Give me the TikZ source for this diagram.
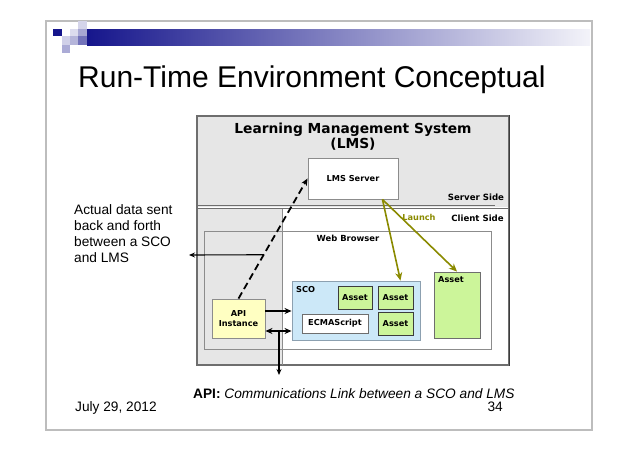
\documentclass[tikz,border=0pt]{standalone}
\usepackage{xcolor}
\usepackage{fontspec}
\setmainfont{Liberation Sans}
\newfontfamily\verdfont{DejaVu Sans}
\usetikzlibrary{positioning,arrows.meta,calc}

\definecolor{framegray}{HTML}{BDBDBD}
\definecolor{navybar}{HTML}{16168C}
\definecolor{srvgray}{HTML}{E6E6E6}
\definecolor{boxline}{HTML}{8C8C8C}
\definecolor{lmsline}{HTML}{6E6E6E}
\definecolor{scoblue}{HTML}{CCE8F8}
\definecolor{scoline}{HTML}{8CA0B0}
\definecolor{assetgreen}{HTML}{CCF59A}
\definecolor{assetline}{HTML}{3C3C3C}
\definecolor{apiyellow}{HTML}{FFFFC2}
\definecolor{launchcol}{HTML}{8A8A00}

\begin{document}
\begin{tikzpicture}[
  x=1pt, y=-1pt,
  lbl/.style={inner sep=0pt, font=\verdfont\bfseries\fontsize{8.2}{9.5}\selectfont},
  box/.style={lbl, draw=boxline, line width=0.9pt},
  assetbox/.style={box, fill=assetgreen, draw=assetline, minimum width=34pt, minimum height=23pt},
  slidetext/.style={inner sep=0pt, font=\fontsize{13.7}{16}\selectfont},
  arrow/.style={-{Stealth[length=7pt,width=6pt]}, line width=1.5pt},
  thinarrow/.style={-{Stealth[length=6pt,width=5pt]}, line width=1.1pt},
  launcharrow/.style={-{Stealth[length=8pt,width=7pt]}, line width=1.6pt, draw=launchcol}
]
  \useasboundingbox (0,0) rectangle (638,451);

  % slide frame and header
  \draw[framegray, line width=1.2pt] (46,21) rectangle (592,430);
  \shade[left color=navybar, middle color=navybar!55!white, right color=navybar!5!white] (87,29) rectangle (590,45);
  \fill[navybar] (53,29) rectangle (62,36);
  \fill[navybar!18!white] (78,21) rectangle (87,29);
  \fill[navybar!15!white] (70,29) rectangle (78,36);
  \fill[navybar!38!white] (78,29) rectangle (87,36);
  \fill[navybar!20!white] (62,36) rectangle (70,45);
  \fill[navybar!32!white] (70,36) rectangle (78,45);
  \fill[navybar!60!white] (78,36) rectangle (87,45);
  \fill[navybar!36!white] (62,45) rectangle (70,53);

  \node[anchor=base west, inner sep=0pt, font=\fontsize{30}{36}\selectfont] (title) at (78,87) {Run-Time Environment Conceptual};

  % LMS frame: server side / client side
  \fill[srvgray] (197,116) rectangle (509,207);
  \fill[srvgray] (197,208) rectangle (282,365);
  \node[draw=lmsline, line width=1.1pt, minimum width=312pt, minimum height=249pt] (lms) at (353,240.5) {};
  \draw[assetline, line width=1.8pt] (lms.north east) -- (lms.south east);
  \draw[lmsline, line width=1pt] (197,205.5) -- (495,205.5);
  \draw[lmsline, line width=1pt] (197,208.5) -- (509,208.5);
  \draw[boxline, line width=0.9pt] (282,208.5) -- (282,365);

  \node[anchor=north, inner sep=0pt, align=center, font=\verdfont\bfseries\fontsize{13.8}{14.5}\selectfont] (lmstitle) at (353,123) {Learning Management System\\(LMS)};
  \node[box, fill=white, minimum width=90pt, minimum height=41pt] (server) at (353,178.5) {LMS Server};
  \node[lbl, font=\verdfont\bfseries\fontsize{8.6}{10}\selectfont] (srvside) at (476,197.5) {Server Side};
  \node[lbl, font=\verdfont\bfseries\fontsize{8.6}{10}\selectfont] (clientside) at (477.5,218) {Client Side};
  \node[lbl, text=launchcol] (launch) at (419,217) {Launch};

  % web browser contents
  \node[draw=boxline, line width=0.9pt, minimum width=287pt, minimum height=118pt] (browser) at (347.5,290) {};
  \node[lbl, font=\verdfont\bfseries\fontsize{8.4}{10}\selectfont] (wblabel) at (348,238.5) {Web Browser};

  \node[box, fill=scoblue, draw=scoline, minimum width=128pt, minimum height=59pt] (sco) at (356,310.5) {};
  \node[lbl, anchor=north west] (scolabel) at (296,286) {SCO};
  \node[assetbox] (assetA) at (355,297.5) {Asset};
  \node[assetbox, minimum width=35pt] (assetB) at (395.5,297.5) {Asset};
  \node[assetbox, minimum width=35pt] (assetC) at (395.5,323.5) {Asset};
  \node[box, fill=white, draw=lmsline, minimum width=66pt, minimum height=19pt] (ecma) at (335,323.5) {ECMAScript};

  \node[box, fill=assetgreen, draw=lmsline, minimum width=46pt, minimum height=66pt] (bigasset) at (457,305) {};
  \node[lbl, anchor=north west] (biglabel) at (438,276) {Asset};

  \node[box, fill=apiyellow, align=center, minimum width=53pt, minimum height=39pt] (api) at (238.5,318.5) {API\\Instance};

  % connectors
  \draw[arrow, dash pattern=on 7pt off 4pt, line width=1.8pt] (api.north) -- (server.west);
  \coordinate (tap) at ($(api.north)!0.365!(server.west)$);
  \coordinate (dataend) at (189,255);
  \draw[thinarrow] (tap) -- (dataend);

  \draw[arrow] ([yshift=7.5pt]api.east) -- ([yshift=7.5pt]api.east -| sco.west);
  \draw[arrow, {Stealth[length=7pt,width=6pt]}-{Stealth[length=7pt,width=6pt]}] ([yshift=-12.5pt]api.east) -- ([yshift=-12.5pt]api.east -| sco.west);
  \coordinate (bus) at (279,331);
  \coordinate (busend) at (279,375);
  \draw[thinarrow] (bus) -- (busend);

  \coordinate (launchpt) at ($(server.south east)+(-16,0)$);
  \draw[launcharrow] (launchpt) -- ($(sco.north east)+(-20,0)$);
  \draw[launcharrow] (launchpt) -- (bigasset.north);

  % slide texts
  \node[slidetext, anchor=north west, align=left] (datanote) at (74,204) {Actual data sent\\back and forth\\between a SCO\\and LMS};
  \node[slidetext, anchor=base west] (apinote) at (193,398) {\textbf{API:} \textit{Communications Link between a SCO and LMS}};
  \node[slidetext, anchor=base west] (date) at (75,411.5) {July 29, 2012};
  \node[slidetext, anchor=base east] (pagenum) at (503,411.5) {34};
\end{tikzpicture}
\end{document}
